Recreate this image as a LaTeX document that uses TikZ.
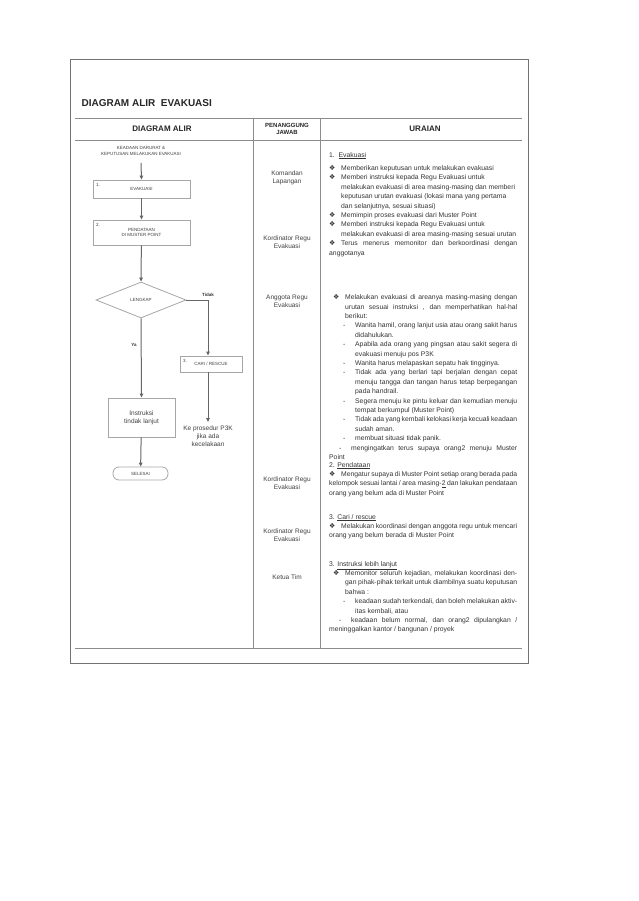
\documentclass[tikz,border=0pt]{standalone}
\usepackage{fontspec}
\setmainfont{Liberation Sans}
\newfontfamily\djv{DejaVu Sans}
\usetikzlibrary{shapes.geometric,arrows.meta}
\newcommand{\bitem}[1]{\par\hangindent=12pt\hangafter=1\noindent\hbox to 12pt{\djv\scriptsize ❖\hfil}#1}
\newcommand{\ditem}[1]{\par\hangindent=22pt\hangafter=1\noindent\hbox to 10pt{}\hbox to 12pt{-\hfil}#1}
\begin{document}
\begin{tikzpicture}[x=1pt,y=-1pt,
  ln/.style={draw=black!45,line width=0.8pt},
  fl/.style={draw=black!60,line width=1pt,-{Triangle[length=4pt,width=3.5pt]}},
  box/.style={draw=black!35,line width=0.8pt,rectangle,inner sep=0pt},
  tiny/.style={font=\fontsize{4.5}{5.5}\selectfont,text=black!75,align=center},
  small/.style={font=\fontsize{6.5}{8}\selectfont,text=black!75,align=center},
  body/.style={anchor=north west,text width=188pt,inner sep=0pt,font=\fontsize{6.8}{9.4}\selectfont,text=black!80,align=justify}]
\useasboundingbox (0,0) rectangle (638,901);
\draw[draw=black!55,line width=1pt] (70,60) rectangle (528,663);
\node[anchor=west,font=\bfseries\fontsize{10}{12}\selectfont,text=black!85] (title) at (78,103) {DIAGRAM ALIR\ \ EVAKUASI};
\draw[ln] (75,118) -- (522,118);
\draw[ln] (75,140) -- (522,140);
\draw[ln] (75,648) -- (522,648);
\draw[ln] (253,118) -- (253,648);
\draw[ln] (320,118) -- (320,648);
\node[font=\bfseries\fontsize{8}{9}\selectfont,text=black!85] (h1) at (162,129) {DIAGRAM ALIR};
\node[font=\bfseries\fontsize{6}{7}\selectfont,text=black!85,align=center] (h2) at (287,129) {PENANGGUNG\\JAWAB};
\node[font=\bfseries\fontsize{8}{9}\selectfont,text=black!85] (h3) at (425,129) {URAIAN};
% flowchart
\node[tiny] (start) at (141,151) {KEADAAN DARURAT \&\\KEPUTUSAN MELAKUKAN EVAKUASI};
\node[box,minimum width=97pt,minimum height=18pt,tiny] (b1) at (141.5,189) {EVAKUASI};
\node[tiny,anchor=north west] at (b1.north west) {1.};
\node[box,minimum width=97pt,minimum height=25pt,tiny] (b2) at (141.5,232.5) {PENDATAAN\\DI MUSTER POINT};
\node[tiny,anchor=north west] at (b2.north west) {2.};
\node[draw=black!35,line width=0.8pt,diamond,aspect=2.6,minimum width=90pt,minimum height=36pt,inner sep=0pt,tiny] (d) at (141,300) {LENGKAP};
\node[box,minimum width=62pt,minimum height=16pt,tiny] (b3) at (211,364) {CARI / RESCUE};
\node[tiny,anchor=north west] at (b3.north west) {3.};
\node[box,minimum width=67pt,minimum height=39pt,small] (b4) at (141.5,417.5) {Instruksi\\tindak lanjut};
\node[box,rounded corners=6pt,minimum width=55pt,minimum height=13pt,tiny] (b5) at (140.5,473.5) {SELESAI};
\node[small,anchor=north] (p3k) at (208,422) {Ke prosedur P3K\\jika ada\\kecelakaan};
\coordinate (c1) at (208,300);
\draw[fl] (start.south) ++(0,4) -- (b1.north);
\draw[fl] (b1) -- (b2);
\draw[fl] (b2) -- (d.north);
\draw[fl] (d.east) -| (b3.north -| c1);
\draw[fl] (b3.south -| c1) -- (p3k.north);
\draw[fl] (d.south) -- (b4.north);
\draw[fl] (b4) -- (b5);
\node[font=\bfseries\fontsize{4.5}{5}\selectfont,text=black!80] (tidak) at (208,295) {Tidak};
\node[font=\bfseries\fontsize{4.5}{5}\selectfont,text=black!80] (ya) at (134,345) {Ya};
% penanggung jawab
\node[small] (p1) at (287,178) {Komandan\\Lapangan};
\node[small] (p2) at (287,242) {Kordinator Regu\\Evakuasi};
\node[small] (p3) at (287,301) {Anggota Regu\\Evakuasi};
\node[small] (p4) at (287,483) {Kordinator Regu\\Evakuasi};
\node[small] (p5) at (287,535) {Kordinator Regu\\Evakuasi};
\node[small] (p6) at (287,577) {Ketua Tim};
% uraian
\node[body] (u1) at (329,152) {\noindent 1.\ \ \underline{Evakuasi}\par\vspace{4pt}\leftskip=4pt\raggedright
\bitem{Memberikan keputusan untuk melakukan evakuasi}
\bitem{Memberi instruksi kepada Regu Evakuasi untuk melakukan evakuasi di area masing-masing dan memberi keputusan urutan evakuasi (lokasi mana yang pertama dan selanjutnya, sesuai situasi)}
\bitem{Memimpin proses evakuasi dari Muster Point}
\bitem{Memberi instruksi kepada Regu Evakuasi untuk melakukan evakuasi di area masing-masing sesuai urutan}
\bitem{Terus menerus memonitor dan berkoordinasi dengan anggotanya}};
\node[body] (u2) at (329,290) {\leftskip=4pt
\bitem{Melakukan evakuasi di areanya masing-masing dengan urutan sesuai instruksi , dan memper\-hatikan hal-hal berikut:}
\ditem{Wanita hamil, orang lanjut usia atau orang sakit harus didahulukan.}
\ditem{Apabila ada orang yang pingsan atau sakit segera di evakuasi menuju pos P3K}
\ditem{Wanita harus melapaskan sepatu hak tingginya.}
\ditem{Tidak ada yang berlari tapi berjalan dengan cepat menuju tangga dan tangan harus tetap berpegangan pada handrail.}
\ditem{Segera menuju ke pintu keluar dan kemudian menuju tempat berkumpul (Muster Point)}
\ditem{Tidak ada yang kembali kelokasi kerja kecuali keadaan sudah aman.}
\ditem{membuat situasi tidak panik.}
\ditem{mengingatkan terus supaya orang2 menuju Muster Point}};
\node[body] (u3) at (329,462) {\noindent 2. \underline{Pendataan}\par\leftskip=4pt
\bitem{Mengatur supaya di Muster Point setiap orang berada pada kelompok sesuai lantai / area masing-\underline{2} dan lakukan pendataan\ \ \ orang yang belum ada di Muster Point}};
\node[body] (u4) at (329,514) {\noindent 3. \underline{Cari / rescue}\par\leftskip=4pt
\bitem{Melakukan koordinasi dengan anggota regu untuk mencari orang yang belum berada di Muster Point}};
\node[body] (u5) at (329,561) {\noindent 3. \underline{Instruksi lebih lanjut}\par\leftskip=4pt
\bitem{Memonitor seluruh kejadian, melakukan koordinasi dengan pihak-pihak terkait untuk diambilnya suatu keputusan bahwa :}
\ditem{keadaan sudah terkendali, dan boleh melakukan aktivitas kembali, atau}
\ditem{keadaan belum normal, dan orang2 dipulangkan / meninggalkan kantor / bangunan / proyek}};
\end{tikzpicture}
\end{document}
